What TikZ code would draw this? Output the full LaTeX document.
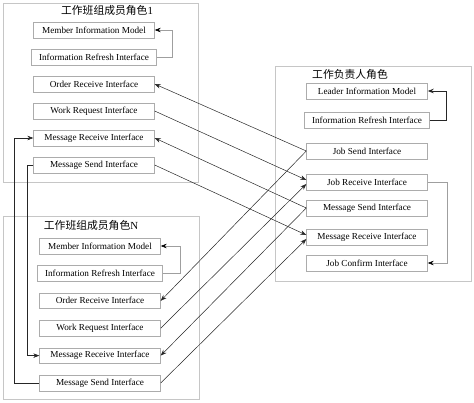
\documentclass[tikz,border=0pt]{standalone}
\usepackage{fontspec}
\setmainfont{Liberation Serif}
\newfontfamily\cjk{Noto Sans CJK SC}
\usetikzlibrary{positioning, arrows.meta}
\begin{document}
\begin{tikzpicture}[x=1pt, y=-1pt, node distance=27pt]

    % Define styles
    \tikzset{
        role/.style = {rectangle, draw=gray!45, line width=0.8pt, inner sep=0pt},
        title/.style = {font=\fontsize{10.8}{12}\selectfont},
        iface/.style = {rectangle, minimum width=121pt, minimum height=15.5pt, inner xsep=7.5pt, inner ysep=0pt, text centered, draw=gray!65, font=\fontsize{9.2}{11}\selectfont},
        arrow/.style = {draw=black!85, line width=0.5pt, ->, >={Stealth[length=6pt, width=4.5pt]}},
        backarrow/.style = {draw=gray!75, line width=0.6pt, ->, >={Stealth[length=6pt, width=4.5pt, black]}}
    }
    \useasboundingbox (0,0) rectangle (474,402);

    % Role boxes
    \node (g1) [role, minimum width=195pt, minimum height=179pt] at (100.5,92.5) {};
    \node (gN) [role, minimum width=196pt, minimum height=183pt] at (101,307.5) {};
    \node (gR) [role, minimum width=196pt, minimum height=215pt] at (373,173.5) {};
    \node (t1) [title] at (107,10) {{\cjk 工作班组成员角色}1};
    \node (tN) [title] at (91,225) {{\cjk 工作班组成员角色}N};
    \node (tR) [title] at (350,74) {\cjk 工作负责人角色};

    % Nodes
    \node (mim1) [iface] at (94,30) {Member Information Model};
    \node (irf1) [iface, below of=mim1] {Information Refresh Interface};
    \node (ori1) [iface, below of=irf1] {Order Receive Interface};
    \node (wri1) [iface, below of=ori1] {Work Request Interface};
    \node (mri1) [iface, below of=wri1] {Message Receive Interface};
    \node (msi1) [iface, below of=mri1] {Message Send Interface};

    \node (mimN) [iface] at (100,246) {Member Information Model};
    \node (irfN) [iface, below of=mimN, node distance=27.4pt] {Information Refresh Interface};
    \node (oriN) [iface, below of=irfN, node distance=27.4pt] {Order Receive Interface};
    \node (wriN) [iface, below of=oriN, node distance=27.4pt] {Work Request Interface};
    \node (mriN) [iface, below of=wriN, node distance=27.4pt] {Message Receive Interface};
    \node (msiN) [iface, below of=mriN, node distance=27.4pt] {Message Send Interface};

    \node (lim) [iface] at (367,91) {Leader Information Model};
    \node (rirf) [iface, below of=lim, node distance=29pt] {Information Refresh Interface};
    \node (jsi) [iface, below of=rirf, node distance=31pt] {Job Send Interface};
    \node (jri) [iface, below of=jsi, node distance=31pt] {Job Receive Interface};
    \node (rmsi) [iface, below of=jri, node distance=26pt] {Message Send Interface};
    \node (rmri) [iface, below of=rmsi, node distance=29pt] {Message Receive Interface};
    \node (jci) [iface, below of=rmri, node distance=26pt] {Job Confirm Interface};

    % Arrows
    \draw [backarrow] (irf1.east) -- ++(16,0) |- (mim1.east);
    \draw [backarrow] (irfN.east) -- ++(18,0) |- (mimN.east);
    \draw [arrow, line width=1pt] (rirf.east) -- ++(17,0) |- (lim.east);
    \draw [backarrow] (jri.east) -- ++(20,0) |- (jci.east);
    \draw [arrow] (msi1.west) -- ++(-6,0) |- (mriN.west);
    \draw [arrow] (msiN.west) -- ++(-25,0) |- (mri1.west);
    \draw [arrow] (jsi.west) -- (ori1.east);
    \draw [arrow] (jsi.west) -- (oriN.east);
    \draw [arrow] (wri1.east) -- ([yshift=2pt]jri.west);
    \draw [arrow] (wriN.east) -- ([yshift=-2pt]jri.west);
    \draw [arrow] (rmsi.west) -- (mri1.east);
    \draw [arrow] (rmsi.west) -- (mriN.east);
    \draw [arrow] (msi1.east) -- ([yshift=2pt]rmri.west);
    \draw [arrow] (msiN.east) -- ([yshift=-2pt]rmri.west);
\end{tikzpicture}
\end{document}
